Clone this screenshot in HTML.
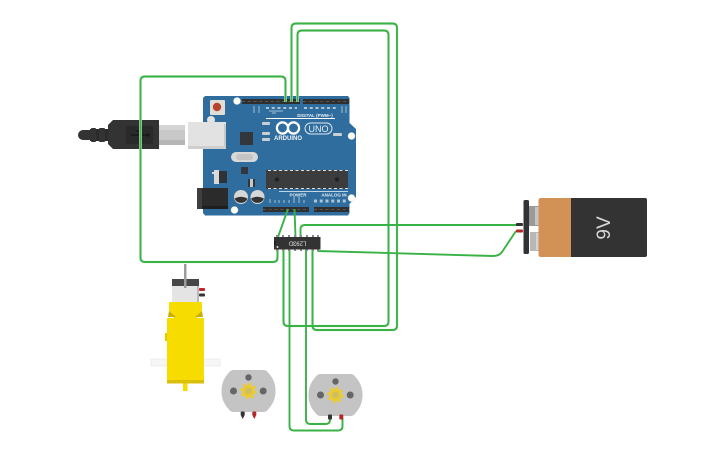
<!DOCTYPE html>
<html><head><meta charset="utf-8"><style>
html,body{margin:0;padding:0;background:#fff;width:725px;height:453px;overflow:hidden}
svg{display:block}
text{font-family:"Liberation Sans",sans-serif}
</style></head><body>
<svg width="725" height="453" viewBox="0 0 725 453" xmlns="http://www.w3.org/2000/svg">
<!-- Arduino board -->
<path d="M205 96H348L349.500 98V123L356 129V197L349.500 204V213L348 215.500H205L203 213V98Z" fill="#2f6d9e"/>
<rect x="188" y="122" width="38" height="27" fill="#e2e2e2"/>
<rect x="188" y="146" width="38" height="3" fill="#cfcfcf"/>
<rect x="224" y="124" width="2" height="22" fill="#c8c8c8"/>
<circle cx="211" cy="120" r="4" fill="#e2e2e2"/>
<rect x="210" y="100" width="15" height="15" rx="1" fill="#e0dcd8"/>
<circle cx="217" cy="107" r="4.200" fill="#b8432c"/>
<!-- headers -->
<rect x="242" y="99" width="58" height="5" fill="#2f2f2f"/>
<rect x="303" y="99" width="46" height="5" fill="#2f2f2f"/>
<rect x="263" y="207" width="46" height="5" fill="#2f2f2f"/>
<rect x="314" y="207" width="35" height="5" fill="#2f2f2f"/>
<g stroke="#555" stroke-width="1" stroke-dasharray="3 2.750" fill="none">
<path d="M242 101.500H300M303 101.500H349M263 209.500H309M314 209.500H349"/>
</g>
<!-- pin label marks -->
<g stroke="#d6e2ea" stroke-width="2" stroke-dasharray="3 2.750" fill="none" opacity=".75">
<path d="M266 108H297M304 108H338"/>
<path d="M314 201H348" stroke-width="3"/>
</g>
<g stroke="#d6e2ea" stroke-width="1" fill="none" opacity=".7">
<path d="M269 111H283M272 113H276"/>
<path d="M270 199V203M275 200V203M279 200V203M284 200V203M289 200V203M294 197V203M299 197V203M304 200V203"/>
<path d="M342 106V113M346 106V113M254 106V113M259 106V113"/>
</g>
<rect x="266" y="118" width="69" height="1" fill="#fff"/>
<rect x="279" y="191" width="38" height="1" fill="#cfe0ea" opacity=".9"/>
<rect x="314" y="191" width="34" height="1" fill="#cfe0ea" opacity=".9"/>
<text x="315" y="117" font-size="4.500" font-weight="700" fill="#e8eef2" text-anchor="middle">DIGITAL (PWM~)</text>
<text x="298" y="196.500" font-size="4.500" font-weight="700" fill="#e8eef2" text-anchor="middle">POWER</text>
<text x="334" y="196.500" font-size="4.500" font-weight="700" fill="#e8eef2" text-anchor="middle">ANALOG IN</text>
<!-- logo -->
<g fill="none" stroke="#fff" stroke-width="2.200">
<circle cx="282.500" cy="128" r="5.600"/><circle cx="293.500" cy="128" r="5.600"/>
</g>
<text x="288" y="140" font-size="6" font-weight="700" fill="#f0f4f6" text-anchor="middle">ARDUINO</text>
<rect x="305" y="123" width="27" height="11" rx="5.500" fill="none" stroke="#e0e8ee" stroke-width="1"/>
<text x="318.500" y="132" font-size="9.500" fill="#e8eef2" text-anchor="middle" textLength="20" lengthAdjust="spacingAndGlyphs">UNO</text>
<!-- LEDs -->
<g fill="#c9d0d4">
<rect x="262" y="122" width="8" height="3" rx="1"/>
<rect x="262" y="132" width="8" height="3" rx="1"/>
<rect x="262" y="138" width="8" height="3" rx="1"/>
<rect x="333" y="133" width="9" height="3" rx="1"/>
</g>
<!-- ICs -->
<rect x="240" y="132" width="13" height="13" fill="#33373b"/>
<rect x="241" y="167" width="7" height="7" fill="#33373b"/>
<rect x="231" y="152" width="27" height="10" rx="5" fill="#d8d8d8"/>
<rect x="236" y="154" width="17" height="6" rx="3" fill="#c4c4c4"/>
<rect x="214" y="170" width="5" height="14" fill="#d8d8d8"/>
<rect x="212" y="172" width="4" height="2" fill="#ddd"/>
<rect x="219" y="171" width="8" height="12" fill="#2f3337"/>
<rect x="248" y="179" width="7" height="8" fill="#33373b"/>
<rect x="250" y="179" width="3" height="8" fill="#c8c8c8"/>
<!-- main chip -->
<rect x="266" y="170" width="82" height="19" fill="#3a3c3e"/>
<g stroke="#ddd" stroke-width="1" stroke-dasharray="3 2.500" fill="none"><path d="M268 170.500H348M268 188.500H348"/></g>
<circle cx="277" cy="179.500" r="2.200" fill="#222"/>
<circle cx="337" cy="179.500" r="2.200" fill="#222"/>
<!-- jack -->
<rect x="197" y="188" width="31" height="21" rx="1" fill="#2b2b2b"/>
<rect x="197" y="188" width="5" height="21" fill="#3f3f3f"/>
<rect x="202" y="206" width="26" height="3" fill="#1e1e1e"/>
<!-- caps -->
<g>
<circle cx="241" cy="197" r="7" fill="#d6d6d6"/><path d="M234.500 198.500A7 7 0 0 0 247.500 198.500Q241 195 234.500 198.500Z" fill="#333"/>
<circle cx="257.500" cy="197" r="7" fill="#d6d6d6"/><path d="M251 198.500A7 7 0 0 0 264 198.500Q257.500 195 251 198.500Z" fill="#333"/>
</g>
<!-- holes -->
<g fill="#fdfdf2" stroke="#dfe5e0" stroke-width=".5">
<circle cx="237" cy="101" r="3.500"/><circle cx="351.500" cy="136" r="3.500"/>
<circle cx="351.500" cy="198" r="3.500"/><circle cx="234.500" cy="210" r="3.500"/>
</g>
<!-- USB plug -->
<rect x="159" y="125" width="26" height="20" fill="#c8c8c8"/>
<rect x="159" y="125" width="26" height="5" fill="#d4d4d4"/>
<rect x="159" y="140" width="26" height="5" fill="#b6b6b6"/>
<path d="M113 120H159V149H113L108 144V125Z" fill="#333"/>
<rect x="126" y="126" width="27" height="18" fill="#2a2a2a"/>
<path d="M131 135H148M136 131H140M138 139H142" stroke="#161616" stroke-width="1.200" fill="none"/>
<circle cx="148" cy="135" r="1.600" fill="#161616"/>
<rect x="90" y="129" width="18" height="12" fill="#2c2c2c"/>
<rect x="91" y="128" width="5" height="14" rx="1" fill="#333"/>
<rect x="99" y="128" width="6" height="14" rx="1" fill="#333"/>
<rect x="78" y="130" width="16" height="10" rx="5" fill="#333"/>
<!-- Gear motor -->
<rect x="151" y="359" width="69" height="7" fill="#f6f6f6" stroke="#e8e8e8" stroke-width=".7"/>
<rect x="172" y="279" width="27" height="7" fill="#474747"/>
<rect x="172" y="286" width="27" height="17" fill="#e4e4e4"/>
<rect x="197" y="286" width="2" height="17" fill="#b8b8b8"/>
<rect x="184" y="264" width="2.500" height="24" fill="#9c9c9c"/>
<rect x="199" y="288" width="6" height="3" rx="1" fill="#c0272d"/>
<rect x="199" y="293.500" width="6" height="3" rx="1" fill="#333"/>
<path d="M169 302H202V312L197 318H174L169 312Z" fill="#f7dc00"/>
<path d="M169 311L176 317H168ZM202 311L195 317H203Z" fill="#c9ac06"/>
<rect x="167" y="318" width="37" height="65" fill="#f7dc00"/>
<rect x="167" y="380" width="37" height="3.500" fill="#dcbf0a"/>
<rect x="165" y="333" width="2" height="8" fill="#e6c800"/>
<rect x="183" y="383.500" width="4.500" height="7.500" fill="#f7dc00"/>
<!-- DC motors -->
<defs>
<g id="m">
<path d="M-15 -21H15Q18 -21 20 -18C25.500 -12 27 -6 27 0C27 6 25.500 12 20 18Q18 21 15 21H-15Q-18 21 -20 18C-25.500 12 -27 6 -27 0C-27 -6 -25.500 -12 -20 -18Q-18 -21 -15 -21Z" fill="#c4c4c4"/>
<circle cx="0" cy="-13.500" r="3.200" fill="#666"/>
<circle cx="-15" cy="0" r="3.500" fill="#666"/>
<circle cx="14.700" cy="0" r="3.500" fill="#666"/>
<circle cx="0" cy="0" r="6.500" fill="none" stroke="#eecb2c" stroke-width="3.500" stroke-dasharray="2.400 2.700"/>
<circle cx="0" cy="0" r="6" fill="#eecb2c"/>
<circle cx="0" cy="0" r="3.500" fill="#cdbf62"/>
</g>
</defs>
<use href="#m" x="248.500" y="391"/>
<rect x="240.700" y="411.500" width="4" height="4.500" rx="1" fill="#333"/><path d="M241.200 416H244.200L242.700 419Z" fill="#333"/>
<rect x="252.300" y="411.500" width="4" height="4.500" rx="1" fill="#b5262a"/><path d="M252.800 416H255.800L254.300 419Z" fill="#b5262a"/>
<use href="#m" x="335.500" y="395"/>
<!-- Wires -->
<g fill="none" stroke="#e2f4e1" stroke-width="2.800">
<path d="M285.500 102V81Q285.500 76.500 281 76.500H145Q140.500 76.500 140.500 81V257.500Q140.500 262 145 262H273Q277.500 262 277.500 257.500V249"/>
<path d="M291.500 102V28Q291.500 23.500 296 23.500H392.500Q397 23.500 397 28V325.500Q397 330 392.500 330H317Q312.500 330 312.500 325.500V249"/>
<path d="M297.500 102V35Q297.500 30.500 302 30.500H384Q388.500 30.500 388.500 35V321.500Q388.500 326 384 326H288Q283.500 326 283.500 321.500V249"/>
</g>
<g fill="none" stroke="#3ab346" stroke-width="1.900">
<path d="M285.500 102V81Q285.500 76.500 281 76.500H145Q140.500 76.500 140.500 81V257.500Q140.500 262 145 262H273Q277.500 262 277.500 257.500V249"/>
<path d="M291.500 102V28Q291.500 23.500 296 23.500H392.500Q397 23.500 397 28V325.500Q397 330 392.500 330H317Q312.500 330 312.500 325.500V249"/>
<path d="M297.500 102V35Q297.500 30.500 302 30.500H384Q388.500 30.500 388.500 35V321.500Q388.500 326 384 326H288Q283.500 326 283.500 321.500V249"/>
<path d="M289.500 249V426Q289.500 430.500 294 430.500H338Q342.500 430.500 342.500 426V418"/>
<path d="M306 249V419.500Q306 424 310.500 424H325.500Q330 424 330 419.500V417"/>
<path d="M288 209L278 237"/>
<path d="M294.500 209L295.500 237"/>
<path d="M300.500 237V229.500Q300.500 225 305 225H520"/>
<path d="M317.500 251L493 256Q499 256 502 252L516 231"/>
</g>
<!-- motor 2 terminals over wires -->
<rect x="328" y="414.500" width="4" height="5" rx="1" fill="#333"/>
<rect x="339.300" y="414.500" width="4" height="5" rx="1" fill="#b5262a"/>
<!-- L293D -->
<g fill="#8a8a8a">
<rect x="276" y="235" width="2" height="3"/><rect x="282" y="235" width="2" height="3"/><rect x="288" y="235" width="2" height="3"/><rect x="294" y="235" width="2" height="3"/><rect x="300" y="235" width="2" height="3"/><rect x="306" y="235" width="2" height="3"/><rect x="312" y="235" width="2" height="3"/><rect x="317" y="235" width="2" height="3"/>
<rect x="276" y="249" width="2" height="2"/><rect x="282" y="249" width="2" height="2"/><rect x="288" y="249" width="2" height="2"/><rect x="294" y="249" width="2" height="2"/><rect x="300" y="249" width="2" height="2"/><rect x="306" y="249" width="2" height="2"/><rect x="312" y="249" width="2" height="2"/><rect x="317" y="249" width="2" height="2"/>
</g>
<rect x="274" y="237" width="46.500" height="12.500" fill="#333"/>
<circle cx="277.500" cy="247" r="1" fill="#ddd"/>
<rect x="274" y="241" width="1.500" height="4" fill="#1c1c1c"/>
<text transform="translate(297.500 241.300) rotate(180)" font-size="6" fill="#e6e6e6" text-anchor="middle">L293D</text>
<!-- Battery -->
<rect x="529" y="206" width="10" height="20" fill="#9a9a9a"/>
<rect x="535" y="207" width="4" height="18" fill="#c5c5c5"/>
<rect x="530" y="232" width="9" height="19" fill="#b8b8b8"/>
<rect x="536" y="233" width="3" height="17" fill="#d4d4d4"/>
<rect x="523.500" y="200" width="5.500" height="54" rx="1.500" fill="#333"/>
<rect x="516" y="223" width="7" height="3" rx="1" fill="#333"/>
<rect x="516" y="229.500" width="7" height="3" rx="1" fill="#b5262a"/>
<path d="M541 198H571V257H541Q538.500 257 538.500 254.500V200.500Q538.500 198 541 198Z" fill="#d29155"/>
<path d="M571 198H645Q647 198 647 200V255Q647 257 645 257H571Z" fill="#333"/>
<text transform="translate(610 228) rotate(-90)" font-size="19" fill="#d9d9d9" text-anchor="middle">9V</text>
</svg>
</body></html>
